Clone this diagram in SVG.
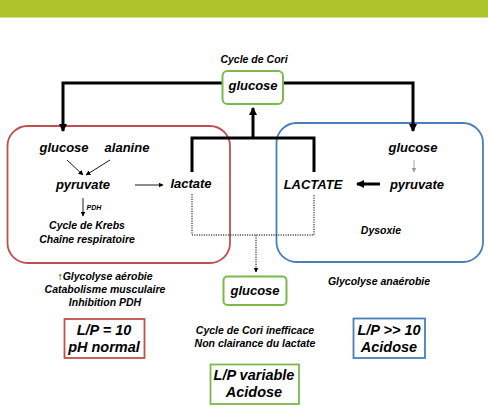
<svg xmlns="http://www.w3.org/2000/svg" width="488" height="407" viewBox="0 0 488 407">
<defs>
<style>
.t{font-family:"Liberation Sans",Arial,sans-serif;font-weight:bold;font-style:italic;fill:#000;text-anchor:middle}
.big{font-size:13px}
.med{font-size:14.5px}
.sm{font-size:10.5px}
.xs{font-size:7px}
.thick{stroke:#000;stroke-width:3;fill:none}
.thin{stroke:#000;stroke-width:0.9;fill:none}
.dot{stroke:#000;stroke-width:1;stroke-dasharray:1.2,1.2;fill:none}
.gbox{fill:#fff;stroke:#7DB84A;stroke-width:2}
</style>
<marker id="ah" markerWidth="8" markerHeight="8" refX="7" refY="4" orient="auto" markerUnits="userSpaceOnUse"><path d="M0,0 L8,4 L0,8 Z" fill="#000"/></marker>
<marker id="as" markerWidth="5" markerHeight="5" refX="4.5" refY="2.5" orient="auto" markerUnits="userSpaceOnUse"><path d="M0,0 L5,2.5 L0,5 Z" fill="#000"/></marker>
<marker id="ag" markerWidth="5" markerHeight="5" refX="4.5" refY="2.5" orient="auto" markerUnits="userSpaceOnUse"><path d="M0,0 L5,2.5 L0,5 Z" fill="#999"/></marker>
</defs>
<rect x="0" y="0" width="488" height="17.5" fill="#AEC42C"/>
<g id="red-region"><rect x="7.5" y="126" width="222.5" height="137" rx="20" fill="none" stroke="#C0504D" stroke-width="1.8"/></g>
<g id="blue-region"><rect x="276.5" y="123" width="206.5" height="139" rx="20" fill="none" stroke="#4A7EBB" stroke-width="1.8"/></g>
<g id="connectors">
<path class="thick" d="M222,83 H63 V131" marker-end="url(#ah)"/>
<path class="thick" d="M283,83 H413 V131" marker-end="url(#ah)"/>
<path class="thick" d="M192,172 V138 H314 V172"/>
<path class="thick" d="M253,138 V108" marker-end="url(#ah)"/>
<path class="dot" d="M192,194 V235 H314 V194"/>
<path class="dot" d="M256,235 V272" marker-end="url(#as)"/>
<path class="thin" d="M67,160 L83,175" marker-end="url(#as)"/>
<path class="thin" d="M110,160 L86,175" marker-end="url(#as)"/>
<path class="thin" d="M135,185 H163" marker-end="url(#as)"/>
<path class="thin" d="M83,198 V216" marker-end="url(#as)"/>
<path stroke="#999" stroke-width="0.9" fill="none" d="M414,160 V172" marker-end="url(#ag)"/>
<path class="thick" d="M380,184 H357" marker-end="url(#ah)"/>
</g>
<g id="cori-label"><text class="t sm" x="254" y="63">Cycle de Cori</text></g>
<g id="glucose-top"><rect class="gbox" x="222.5" y="71" width="60.5" height="33" rx="5"/><text class="t big" x="253" y="90">glucose</text></g>
<g id="glucose-left"><text class="t big" x="64" y="152">glucose</text></g>
<g id="alanine"><text class="t big" x="127" y="152">alanine</text></g>
<g id="pyruvate-left"><text class="t big" x="83" y="189">pyruvate</text></g>
<g id="pdh"><text class="t xs" x="94" y="209.5">PDH</text></g>
<g id="krebs"><text class="t sm" x="87" y="229">Cycle de Krebs</text><text class="t sm" x="87" y="243">Chaîne respiratoire</text></g>
<g id="lactate"><text class="t big" x="191" y="188">lactate</text></g>
<g id="glucose-right"><text class="t big" x="413" y="152">glucose</text></g>
<g id="pyruvate-right"><text class="t big" x="417" y="189">pyruvate</text></g>
<g id="LACTATE"><text class="t big" x="313" y="189">LACTATE</text></g>
<g id="dysoxie"><text class="t sm" x="381" y="234">Dysoxie</text></g>
<g id="left-notes"><text class="t sm" x="105" y="280">↑Glycolyse aérobie</text><text class="t sm" x="105" y="293">Catabolisme musculaire</text><text class="t sm" x="105" y="306">Inhibition PDH</text></g>
<g id="glucose-bottom"><rect class="gbox" x="223.5" y="276.5" width="63" height="28.5" rx="4"/><text class="t big" x="255" y="295">glucose</text></g>
<g id="anaerobie"><text class="t sm" x="379" y="285">Glycolyse anaérobie</text></g>
<g id="lp-normal"><rect x="64.5" y="319" width="80" height="39" fill="#fff" stroke="#C0504D" stroke-width="1.8"/><text class="t med" x="104" y="335">L/P = 10</text><text class="t med" x="104" y="352">pH normal</text></g>
<g id="cori-inefficace"><text class="t sm" x="255" y="334">Cycle de Cori inefficace</text><text class="t sm" x="255" y="347">Non clairance du lactate</text></g>
<g id="lp-high"><rect x="353.5" y="318.5" width="71.5" height="39.5" fill="#fff" stroke="#4A7EBB" stroke-width="1.8"/><text class="t med" x="389" y="335">L/P &gt;&gt; 10</text><text class="t med" x="389" y="352">Acidose</text></g>
<g id="lp-variable"><rect x="210.5" y="364.5" width="88.5" height="39.5" fill="#fff" stroke="#7DB84A" stroke-width="1.8"/><text class="t med" x="254" y="380">L/P variable</text><text class="t med" x="254" y="397">Acidose</text></g>
</svg>
